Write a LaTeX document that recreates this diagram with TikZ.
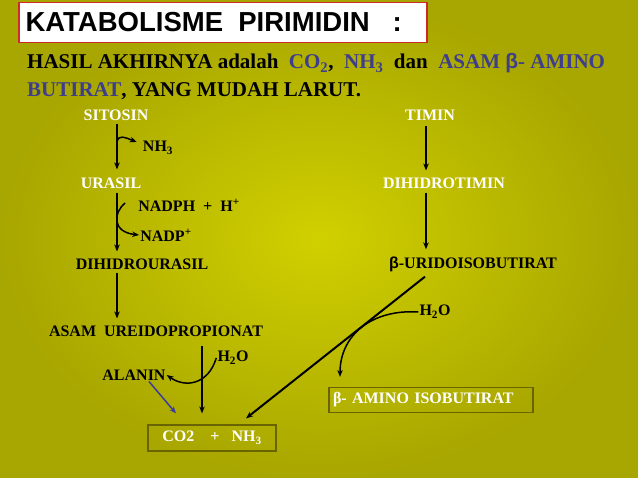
\documentclass[tikz,border=0pt]{standalone}
\usepackage{fontspec}
\setmainfont{Liberation Serif}
\newfontfamily\arialfont{Liberation Sans}
\usetikzlibrary{arrows.meta}
\tikzset{>={Stealth[length=7pt,width=5.5pt]}}

\definecolor{olivedark}{RGB}{168,166,0}
\definecolor{olivelight}{RGB}{208,208,0}
\definecolor{hasilblue}{RGB}{62,62,140}
\definecolor{boxedge}{RGB}{105,100,0}
\definecolor{titlered}{RGB}{200,45,40}
\definecolor{alaninblue}{RGB}{60,60,160}

\tikzset{
  lbl/.style={font=\fontsize{16}{18}\selectfont\bfseries, inner sep=1pt},
  wlbl/.style={lbl, text=white},
  rx/.style={->, line width=2pt},
  sidex/.style={->, line width=1.5pt},
  hasil/.style={font=\fontsize{21}{23}\selectfont\bfseries, anchor=base west, inner sep=0pt}
}

\begin{document}
\begin{tikzpicture}[x=1pt,y=-1pt]
\useasboundingbox (0,0) rectangle (638,478);

% Background
\shade[inner color=olivelight, outer color=olivedark] (0,0) rectangle (638,478);

% Title
\node[draw=titlered, line width=1.5pt, fill=white, minimum width=408pt, minimum height=40pt,
      anchor=north west, inner sep=0pt] (title) at (18,2) {};
\node[font=\arialfont\fontsize{27.5}{29}\selectfont\bfseries, anchor=west] (titletext) at (22,22)
  {KATABOLISME\ \ PIRIMIDIN\ \ \ :};

% Result line
\node[hasil] (hasilA) at (27,69) {HASIL AKHIRNYA adalah\ \ {\color{hasilblue}CO\textsubscript{2}},\ \
  {\color{hasilblue}NH\textsubscript{3}}\ \ dan\ \ {\color{hasilblue}ASAM {\arialfont β}- AMINO}};
\node[hasil] (hasilB) at (27,97) {{\color{hasilblue}BUTIRAT}, YANG MUDAH LARUT.};

% Sitosin branch
\node[wlbl] (sitosin) at (116,115) {SITOSIN};
\node[lbl] (nh3) at (158,148) {NH\textsubscript{3}};
\node[wlbl] (urasil) at (111,183) {URASIL};
\node[lbl] (nadph) at (189,205) {NADPH\ \ +\ \ H\textsuperscript{+}};
\node[lbl] (nadp) at (166,235) {NADP\textsuperscript{+}};
\node[lbl] (dihidrourasil) at (142,264) {DIHIDROURASIL};
\node[lbl] (ureido) at (156,331) {ASAM\ \ UREIDOPROPIONAT};
\node[lbl] (h2oL) at (233,358) {H\textsubscript{2}O};
\node[lbl] (alanin) at (134,375) {ALANIN};

% Timin branch
\node[wlbl] (timin) at (430,115) {TIMIN};
\node[wlbl] (dihidrotimin) at (444,183) {DIHIDROTIMIN};
\node[lbl] (uridoiso) at (473,264) {{\arialfont β}-URIDOISOBUTIRAT};
\node[lbl] (h2oR) at (435,312) {H\textsubscript{2}O};

% End products
\node[wlbl, draw=boxedge, line width=1.2pt, minimum width=204pt, minimum height=25pt,
      text width=196pt, align=left] (aminoiso) at (431,400) {β- AMINO ISOBUTIRAT};
\node[wlbl, draw=boxedge, line width=1.2pt, minimum width=128pt, minimum height=26pt]
  (co2nh3) at (212,438) {CO2\ \ \ \ +\ \ \ NH\textsubscript{3}};

% Vertical steps
\coordinate (xL) at (117,0);
\coordinate (xR) at (426,0);
\draw[rx] (xL |- sitosin.south) ++(0,2) -- ([yshift=7pt]xL |- urasil.north);
\draw[rx] (xL |- urasil.south) ++(0,3) -- ([yshift=6pt]xL |- dihidrourasil.north);
\draw[rx] (xL |- dihidrourasil.south) ++(0,2) -- ([yshift=6pt]xL |- ureido.north);
\draw[rx] (xR |- timin.south) ++(0,5) -- ([yshift=6pt]xR |- dihidrotimin.north);
\draw[rx] (xR |- dihidrotimin.south) ++(0,3) -- ([yshift=6pt]xR |- uridoiso.north);
\draw[rx] (ureido.south -| 202,0) ++(0,8) -- ([yshift=11pt]co2nh3.north -| 202,0);

% Side reactions
\draw[sidex] (117,141) .. controls (119,135) and (124,137) .. ([xshift=-5pt]nh3.west |- 0,142);
\draw[sidex] ([xshift=-12pt]nadph.west |- 0,203) .. controls (113,213) and (112,232) .. (nadp.west);
\draw[sidex] (h2oL.west) .. controls (208,385) and (185,388) .. (alanin.east);
\draw[sidex] (h2oR.west) .. controls (372,309) and (340,335) .. ([yshift=10pt]aminoiso.north -| 340,0);

% Diagonal steps
\draw[rx] ([xshift=-48pt,yshift=-4pt]uridoiso.south) -- ([xshift=34pt,yshift=6pt]co2nh3.north);
\draw[sidex, alaninblue] ([xshift=15pt]alanin.south) -- ([xshift=-36pt,yshift=11pt]co2nh3.north);

\end{tikzpicture}
\end{document}
